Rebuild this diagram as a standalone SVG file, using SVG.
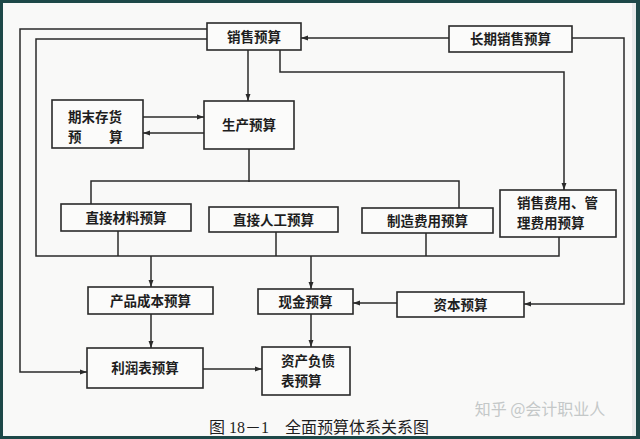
<svg xmlns="http://www.w3.org/2000/svg" width="640" height="439" viewBox="0 0 640 439">
<style>
.box{fill:#fbfbfa;stroke:#2a2a2a;stroke-width:1.6}
.t{font-family:"Noto Sans CJK SC","Noto Sans CJK JP",sans-serif;font-size:13.5px;font-weight:bold;fill:#1e1e1e}
.c{text-anchor:middle}
.ln{fill:none;stroke:#2a2a2a;stroke-width:1.5}
</style>
<defs>
<marker id="ah" viewBox="0 0 10 10" refX="10" refY="5" markerWidth="7" markerHeight="7" orient="auto" markerUnits="userSpaceOnUse">
<path d="M0,1.5 L10,5 L0,8.5 z" fill="#2a2a2a"/>
</marker>
</defs>
<rect x="0" y="0" width="640" height="439" fill="#1d4848"/>
<rect x="3" y="3" width="633" height="433" fill="#f9f9f8"/>
<rect x="632" y="3" width="4" height="433" fill="#e6eaea"/>

<g id="connectors">
<path class="ln" d="M207,29 H20 V372 H87" marker-end="url(#ah)"/>
<path class="ln" d="M207,39 H36 V256 H559 V237"/>
<path class="ln" d="M248,50 V101" marker-end="url(#ah)"/>
<path class="ln" d="M280,50 V72 H564 V190" marker-end="url(#ah)"/>
<path class="ln" d="M449,38 H301" marker-end="url(#ah)"/>
<path class="ln" d="M572,38 H624 V304 H524" marker-end="url(#ah)"/>
<path class="ln" d="M397,303 H353" marker-end="url(#ah)"/>
<path class="ln" d="M143,117 H204" marker-end="url(#ah)"/>
<path class="ln" d="M204,133 H143" marker-end="url(#ah)"/>
<path class="ln" d="M249,149 V182"/>
<path class="ln" d="M91,204 V181 H459 V208"/>
<path class="ln" d="M118,231 V256"/>
<path class="ln" d="M276,232 V256"/>
<path class="ln" d="M426,233 V256"/>
<path class="ln" d="M151,256 V287" marker-end="url(#ah)"/>
<path class="ln" d="M311,256 V289" marker-end="url(#ah)"/>
<path class="ln" d="M151,314 V348" marker-end="url(#ah)"/>
<path class="ln" d="M311,314 V347" marker-end="url(#ah)"/>
<path class="ln" d="M203,369 H262" marker-end="url(#ah)"/>
</g>

<g id="n-sales"><rect class="box" x="207" y="23" width="94" height="27"/><text class="t c" x="254" y="41.5">销售预算</text></g>
<g id="n-longsales"><rect class="box" x="449" y="26" width="123" height="26"/><text class="t c" x="510.5" y="44">长期销售预算</text></g>
<g id="n-inventory"><rect class="box" x="52" y="100" width="91" height="48"/><text class="t" x="68" y="121.5">期末存货</text><text class="t" x="68" y="141.5">预<tspan x="109">算</tspan></text></g>
<g id="n-production"><rect class="box" x="204" y="101" width="90" height="48"/><text class="t c" x="249" y="130">生产预算</text></g>
<g id="n-material"><rect class="box" x="61" y="204" width="130" height="27"/><text class="t c" x="126" y="222.5">直接材料预算</text></g>
<g id="n-labor"><rect class="box" x="209" y="207" width="129" height="25"/><text class="t c" x="273.5" y="224.5">直接人工预算</text></g>
<g id="n-overhead"><rect class="box" x="362" y="208" width="131" height="25"/><text class="t c" x="427.5" y="225.5">制造费用预算</text></g>
<g id="n-expense"><rect class="box" x="500" y="190" width="116" height="47"/><text class="t" x="517" y="208">销售费用、管</text><text class="t" x="517" y="228">理费用预算</text></g>
<g id="n-productcost"><rect class="box" x="88" y="287" width="125" height="27"/><text class="t c" x="150.5" y="305.5">产品成本预算</text></g>
<g id="n-cash"><rect class="box" x="258" y="289" width="95" height="25"/><text class="t c" x="305.5" y="306.5">现金预算</text></g>
<g id="n-capital"><rect class="box" x="397" y="292" width="127" height="25"/><text class="t c" x="460.5" y="309.5">资本预算</text></g>
<g id="n-profit"><rect class="box" x="87" y="348" width="116" height="40"/><text class="t c" x="145" y="373">利润表预算</text></g>
<g id="n-balance"><rect class="box" x="262" y="347" width="88" height="48"/><text class="t" x="281" y="366">资产负债</text><text class="t" x="281" y="386">表预算</text></g>

<text x="540" y="415" font-family="Noto Sans CJK SC,sans-serif" font-size="16" fill="#c4c8c8" text-anchor="middle">知乎 @会计职业人</text>
<text x="319" y="433" font-family="Liberation Serif,Noto Sans CJK SC,serif" font-size="16" fill="#1e1e1e" text-anchor="middle">图 18－1　全面预算体系关系图</text>
</svg>
